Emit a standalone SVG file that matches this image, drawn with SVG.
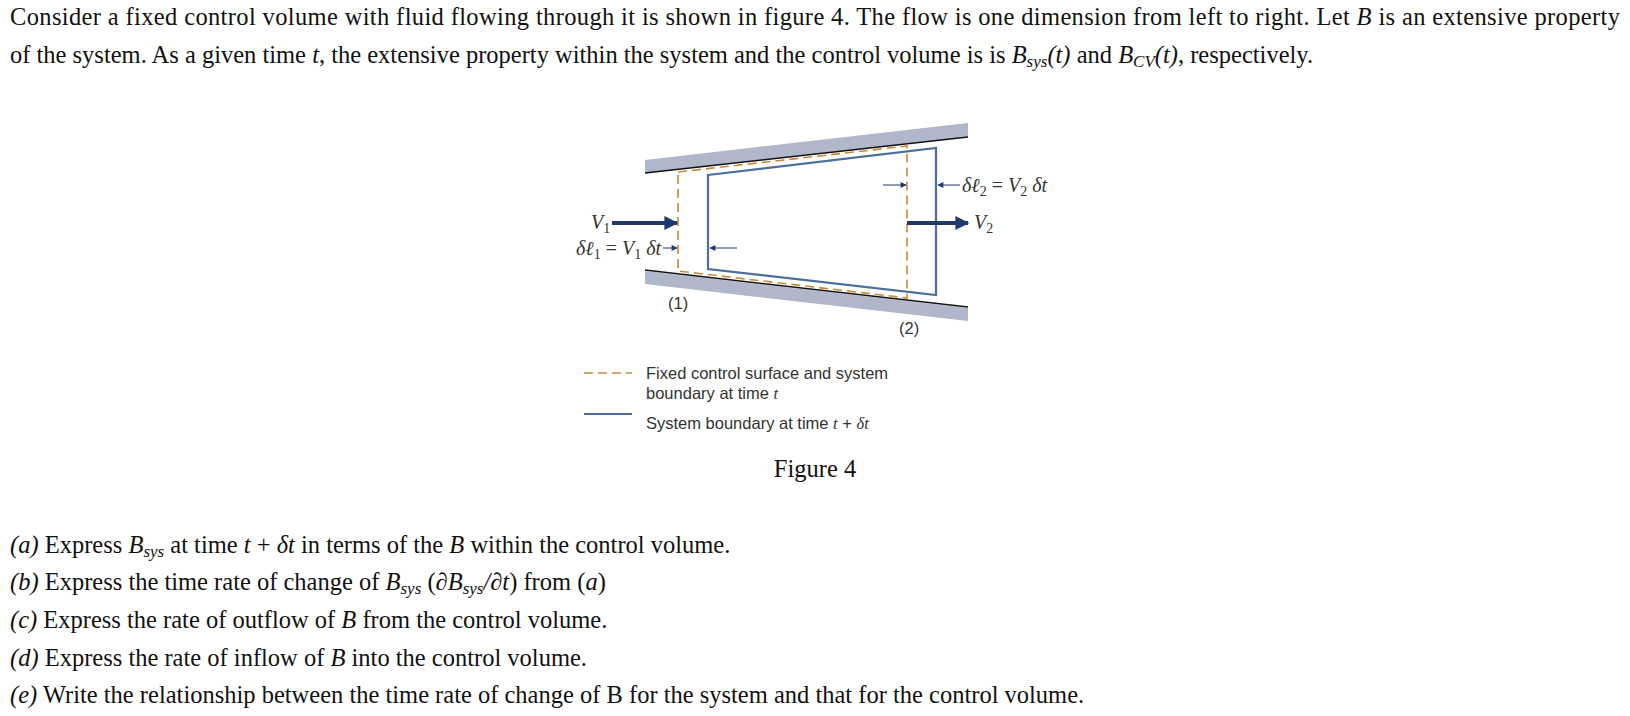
<svg xmlns="http://www.w3.org/2000/svg" width="1630" height="716" viewBox="0 0 1630 716">
<style>
.t{font-family:"Liberation Serif",serif;font-size:24.5px;fill:#111}
.f{font-family:"Liberation Sans",sans-serif;font-size:16.5px;fill:#333}
.fi{font-family:"Liberation Serif",serif;font-size:20px;font-style:italic;fill:#333}
.band{fill:#b0b7cb}
.edge{stroke:#111;stroke-width:1.5}
.cs{fill:none;stroke:#c8893b;stroke-width:1.6;stroke-dasharray:9,5}
.sb{fill:none;stroke:#4b6f9c;stroke-width:2.2}
.big{stroke:#1d3a6b;stroke-width:4;marker-end:url(#ab)}
.sm{stroke:#1d3a6b;stroke-width:1;marker-end:url(#as)}
</style>
<defs>
<marker id="ab" viewBox="0 0 10 10" refX="9" refY="5" markerWidth="5" markerHeight="3.5" orient="auto" markerUnits="strokeWidth"><path d="M0,0L10,5L0,10z" fill="#1d3a6b"/></marker>
<marker id="as" viewBox="0 0 10 10" refX="9" refY="5" markerWidth="8" markerHeight="6" orient="auto" markerUnits="strokeWidth"><path d="M0,0L10,5L0,10z" fill="#1d3a6b"/></marker>
</defs>
<rect width="1630" height="716" fill="#fff"/>
<text class="t" x="10" y="25" textLength="1610" lengthAdjust="spacing">Consider a fixed control volume with fluid flowing through it is shown in figure 4. The flow is one dimension from left to right. Let <tspan font-style="italic">B</tspan> is an extensive property</text>
<text class="t" x="10" y="63">of the system. As a given time <tspan font-style="italic">t</tspan>, the extensive property within the system and the control volume is is <tspan font-style="italic">B<tspan font-size="17" dy="4">sys</tspan><tspan dy="-4">(t)</tspan></tspan> and <tspan font-style="italic">B<tspan font-size="17" dy="4">CV</tspan><tspan dy="-4">(t)</tspan></tspan>, respectively.</text>
<g id="walls">
<polygon class="band" points="645,160 968,123 968,137 645,173"/>
<line class="edge" x1="645" y1="173" x2="968" y2="137"/>
<polygon class="band" points="645,271 968,308 968,321 645,284"/>
<line class="edge" x1="645" y1="270" x2="968" y2="307"/>
</g>
<g id="control-surface"><polygon class="cs" points="678,172 907,146 907,298 678,271"/></g>
<g id="system-boundary"><polygon class="sb" points="708,175 936,148 936,295 708,269"/></g>
<g id="connectors">
<line class="big" x1="612" y1="223" x2="677" y2="223"/>
<line class="big" x1="907" y1="223" x2="968" y2="223"/>
<line class="sm" x1="663" y1="248" x2="677" y2="248"/>
<line class="sm" x1="737" y1="248" x2="710" y2="248"/>
<line class="sm" x1="883" y1="185" x2="906" y2="185"/>
<line class="sm" x1="960" y1="185" x2="938" y2="185"/>
</g>
<g id="labels">
<text class="fi" x="591" y="229">V<tspan font-size="14" dy="4" font-style="normal">1</tspan></text>
<text class="fi" x="661" y="255" text-anchor="end">δℓ<tspan font-size="14" dy="4" font-style="normal">1</tspan><tspan dy="-4" font-style="normal"> = </tspan>V<tspan font-size="14" dy="4" font-style="normal">1</tspan><tspan dy="-4"> δt</tspan></text>
<text class="fi" x="962" y="192">δℓ<tspan font-size="14" dy="4" font-style="normal">2</tspan><tspan dy="-4" font-style="normal"> = </tspan>V<tspan font-size="14" dy="4" font-style="normal">2</tspan><tspan dy="-4"> δt</tspan></text>
<text class="fi" x="974" y="229">V<tspan font-size="14" dy="4" font-style="normal">2</tspan></text>
<text class="f" x="668" y="309">(1)</text>
<text class="f" x="899" y="334">(2)</text>
</g>
<g id="legend">
<line class="cs" x1="584" y1="373" x2="632" y2="373" stroke-width="2" stroke-dasharray="11,5"/>
<text class="f" x="646" y="379">Fixed control surface and system</text>
<text class="f" x="646" y="399">boundary at time <tspan font-family="Liberation Serif" font-style="italic">t</tspan></text>
<line class="sb" x1="584" y1="414" x2="632" y2="414" stroke-width="1.8"/>
<text class="f" x="646" y="429">System boundary at time <tspan font-family="Liberation Serif" font-style="italic">t</tspan> + <tspan font-family="Liberation Serif" font-style="italic">δt</tspan></text>
</g>
<text class="t" x="815" y="477" text-anchor="middle">Figure 4</text>
<text class="t" x="10" y="553"><tspan font-style="italic">(a)</tspan> Express <tspan font-style="italic">B<tspan font-size="17" dy="4">sys</tspan></tspan><tspan dy="-4"> at time </tspan><tspan font-style="italic">t</tspan> + <tspan font-style="italic">δt</tspan> in terms of the <tspan font-style="italic">B</tspan> within the control volume.</text>
<text class="t" x="10" y="590"><tspan font-style="italic">(b)</tspan> Express the time rate of change of <tspan font-style="italic">B<tspan font-size="17" dy="4">sys</tspan></tspan><tspan dy="-4"> (</tspan><tspan font-style="italic">∂B<tspan font-size="17" dy="4">sys</tspan><tspan dy="-4">/∂t</tspan></tspan>) from (<tspan font-style="italic">a</tspan>)</text>
<text class="t" x="10" y="628"><tspan font-style="italic">(c)</tspan> Express the rate of outflow of <tspan font-style="italic">B</tspan> from the control volume.</text>
<text class="t" x="10" y="666"><tspan font-style="italic">(d)</tspan> Express the rate of inflow of <tspan font-style="italic">B</tspan> into the control volume.</text>
<text class="t" x="10" y="703"><tspan font-style="italic">(e)</tspan> Write the relationship between the time rate of change of B for the system and that for the control volume.</text>
</svg>
